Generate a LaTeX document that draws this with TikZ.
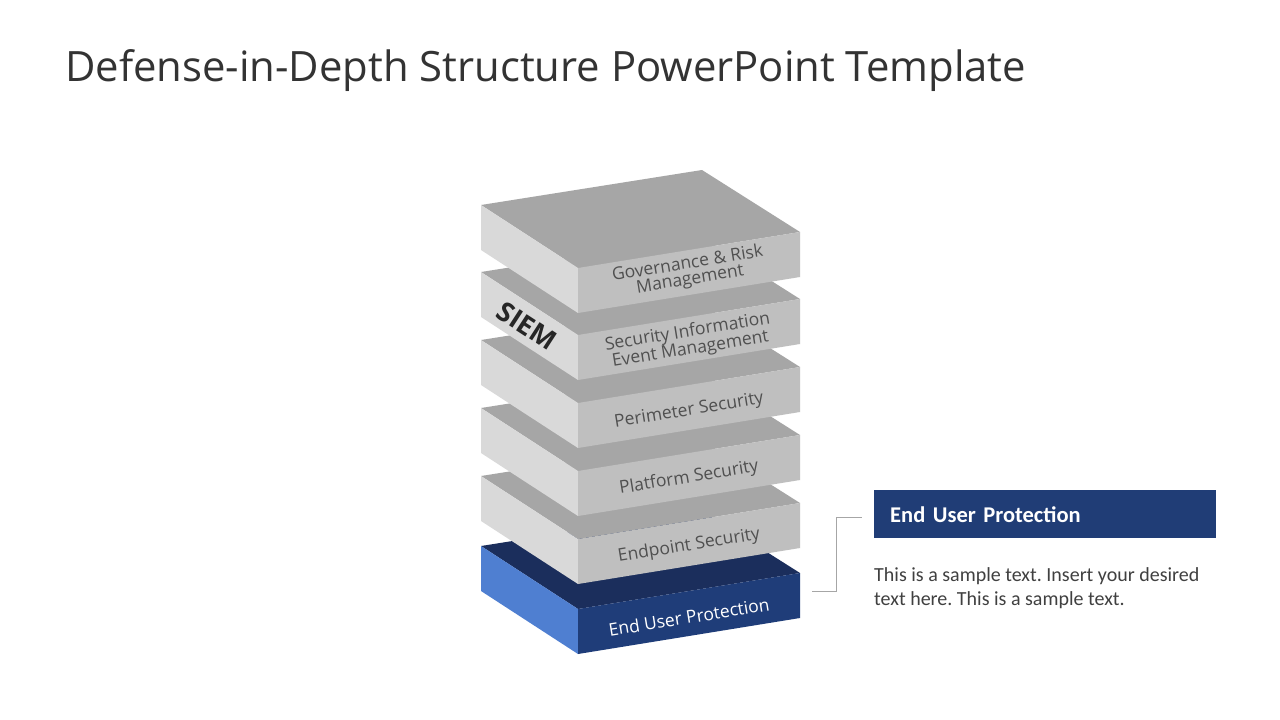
\documentclass[tikz,border=0pt]{standalone}
\usepackage{fontspec}
\setmainfont{Open Sans}
\newfontfamily\calfont{Carlito}
\definecolor{topg}{HTML}{A6A6A6}
\definecolor{leftg}{HTML}{D9D9D9}
\definecolor{frontg}{HTML}{BFBFBF}
\definecolor{labelg}{HTML}{505050}
\definecolor{navytop}{HTML}{1B2E5C}
\definecolor{blueleft}{HTML}{4F7FD1}
\definecolor{bluefront}{HTML}{1F3D79}
\definecolor{boxblue}{HTML}{203D76}
\definecolor{titleg}{HTML}{333333}
\definecolor{bodyg}{HTML}{404040}
\definecolor{lineg}{HTML}{A6A6A6}
\newcommand\layerblock[4]{%
  \fill[#2] (481,#1) -- (702,#1-35) -- (800,#1+27) -- (578,#1+63) -- cycle;
  \fill[#3] (481,#1) -- (578,#1+63) -- (578,#1+108) -- (481,#1+45) -- cycle;
  \fill[#4] (578,#1+63) -- (800,#1+27) -- (800,#1+72) -- (578,#1+108) -- cycle;
}
\tikzset{
  layerlabel/.style={rotate=9.2, text=labelg, align=center, font=\fontsize{17.5}{16}\selectfont, inner sep=0pt},
  sidelabel/.style={rotate=-33, text=black!85, font=\fontsize{27}{27}\selectfont\bfseries, inner sep=0pt},
}
\frenchspacing
\begin{document}
\begin{tikzpicture}[x=1pt,y=-1pt]
\fill[white] (0,0) rectangle (1280,720);
\node (title) [anchor=west, text=titleg, font=\fontsize{41.8}{48}\selectfont, inner sep=0pt] at (65,71) {Defense-in-Depth Structure PowerPoint Template};
% layers, bottom to top
\layerblock{546}{navytop}{blueleft}{bluefront}
\layerblock{476}{topg}{leftg}{frontg}
\layerblock{408}{topg}{leftg}{frontg}
\layerblock{340}{topg}{leftg}{frontg}
\layerblock{272}{topg}{leftg}{frontg}
\layerblock{205}{topg}{leftg}{frontg}
\node (l6) [layerlabel, text=white] at (689,617) {End User Protection};
\node (l5) [layerlabel] at (689,546) {Endpoint Security};
\node (l4) [layerlabel] at (689,478) {Platform Security};
\node (l3) [layerlabel] at (689,411) {Perimeter Security};
\node (l2) [layerlabel] at (689,341) {Security Information\\Event Management};
\node (l1) [layerlabel] at (689,272) {Governance \& Risk\\Management};
\node (siem) [sidelabel] at (527,326) {SIEM};
% callout
\node (cbox) [fill=boxblue, anchor=north west, minimum width=342pt, minimum height=48pt, text width=310pt, inner xsep=16pt, inner ysep=0pt, align=left, text=white, font=\calfont\fontsize{22.5}{26}\selectfont\bfseries] at (874,490) {End User Protection};
\node (desc) [anchor=north west, inner sep=0pt, text=bodyg, align=left, font=\calfont\fontsize{20}{24}\selectfont] at (874,567) {This is a sample text. Insert your desired\\text here. This is a sample text.};
\coordinate (cstart) at (812,591);
\coordinate (cend) at (862,517);
\draw[lineg, line width=1pt] (cstart) -- ++(24,0) |- (cend);
\end{tikzpicture}
\end{document}
